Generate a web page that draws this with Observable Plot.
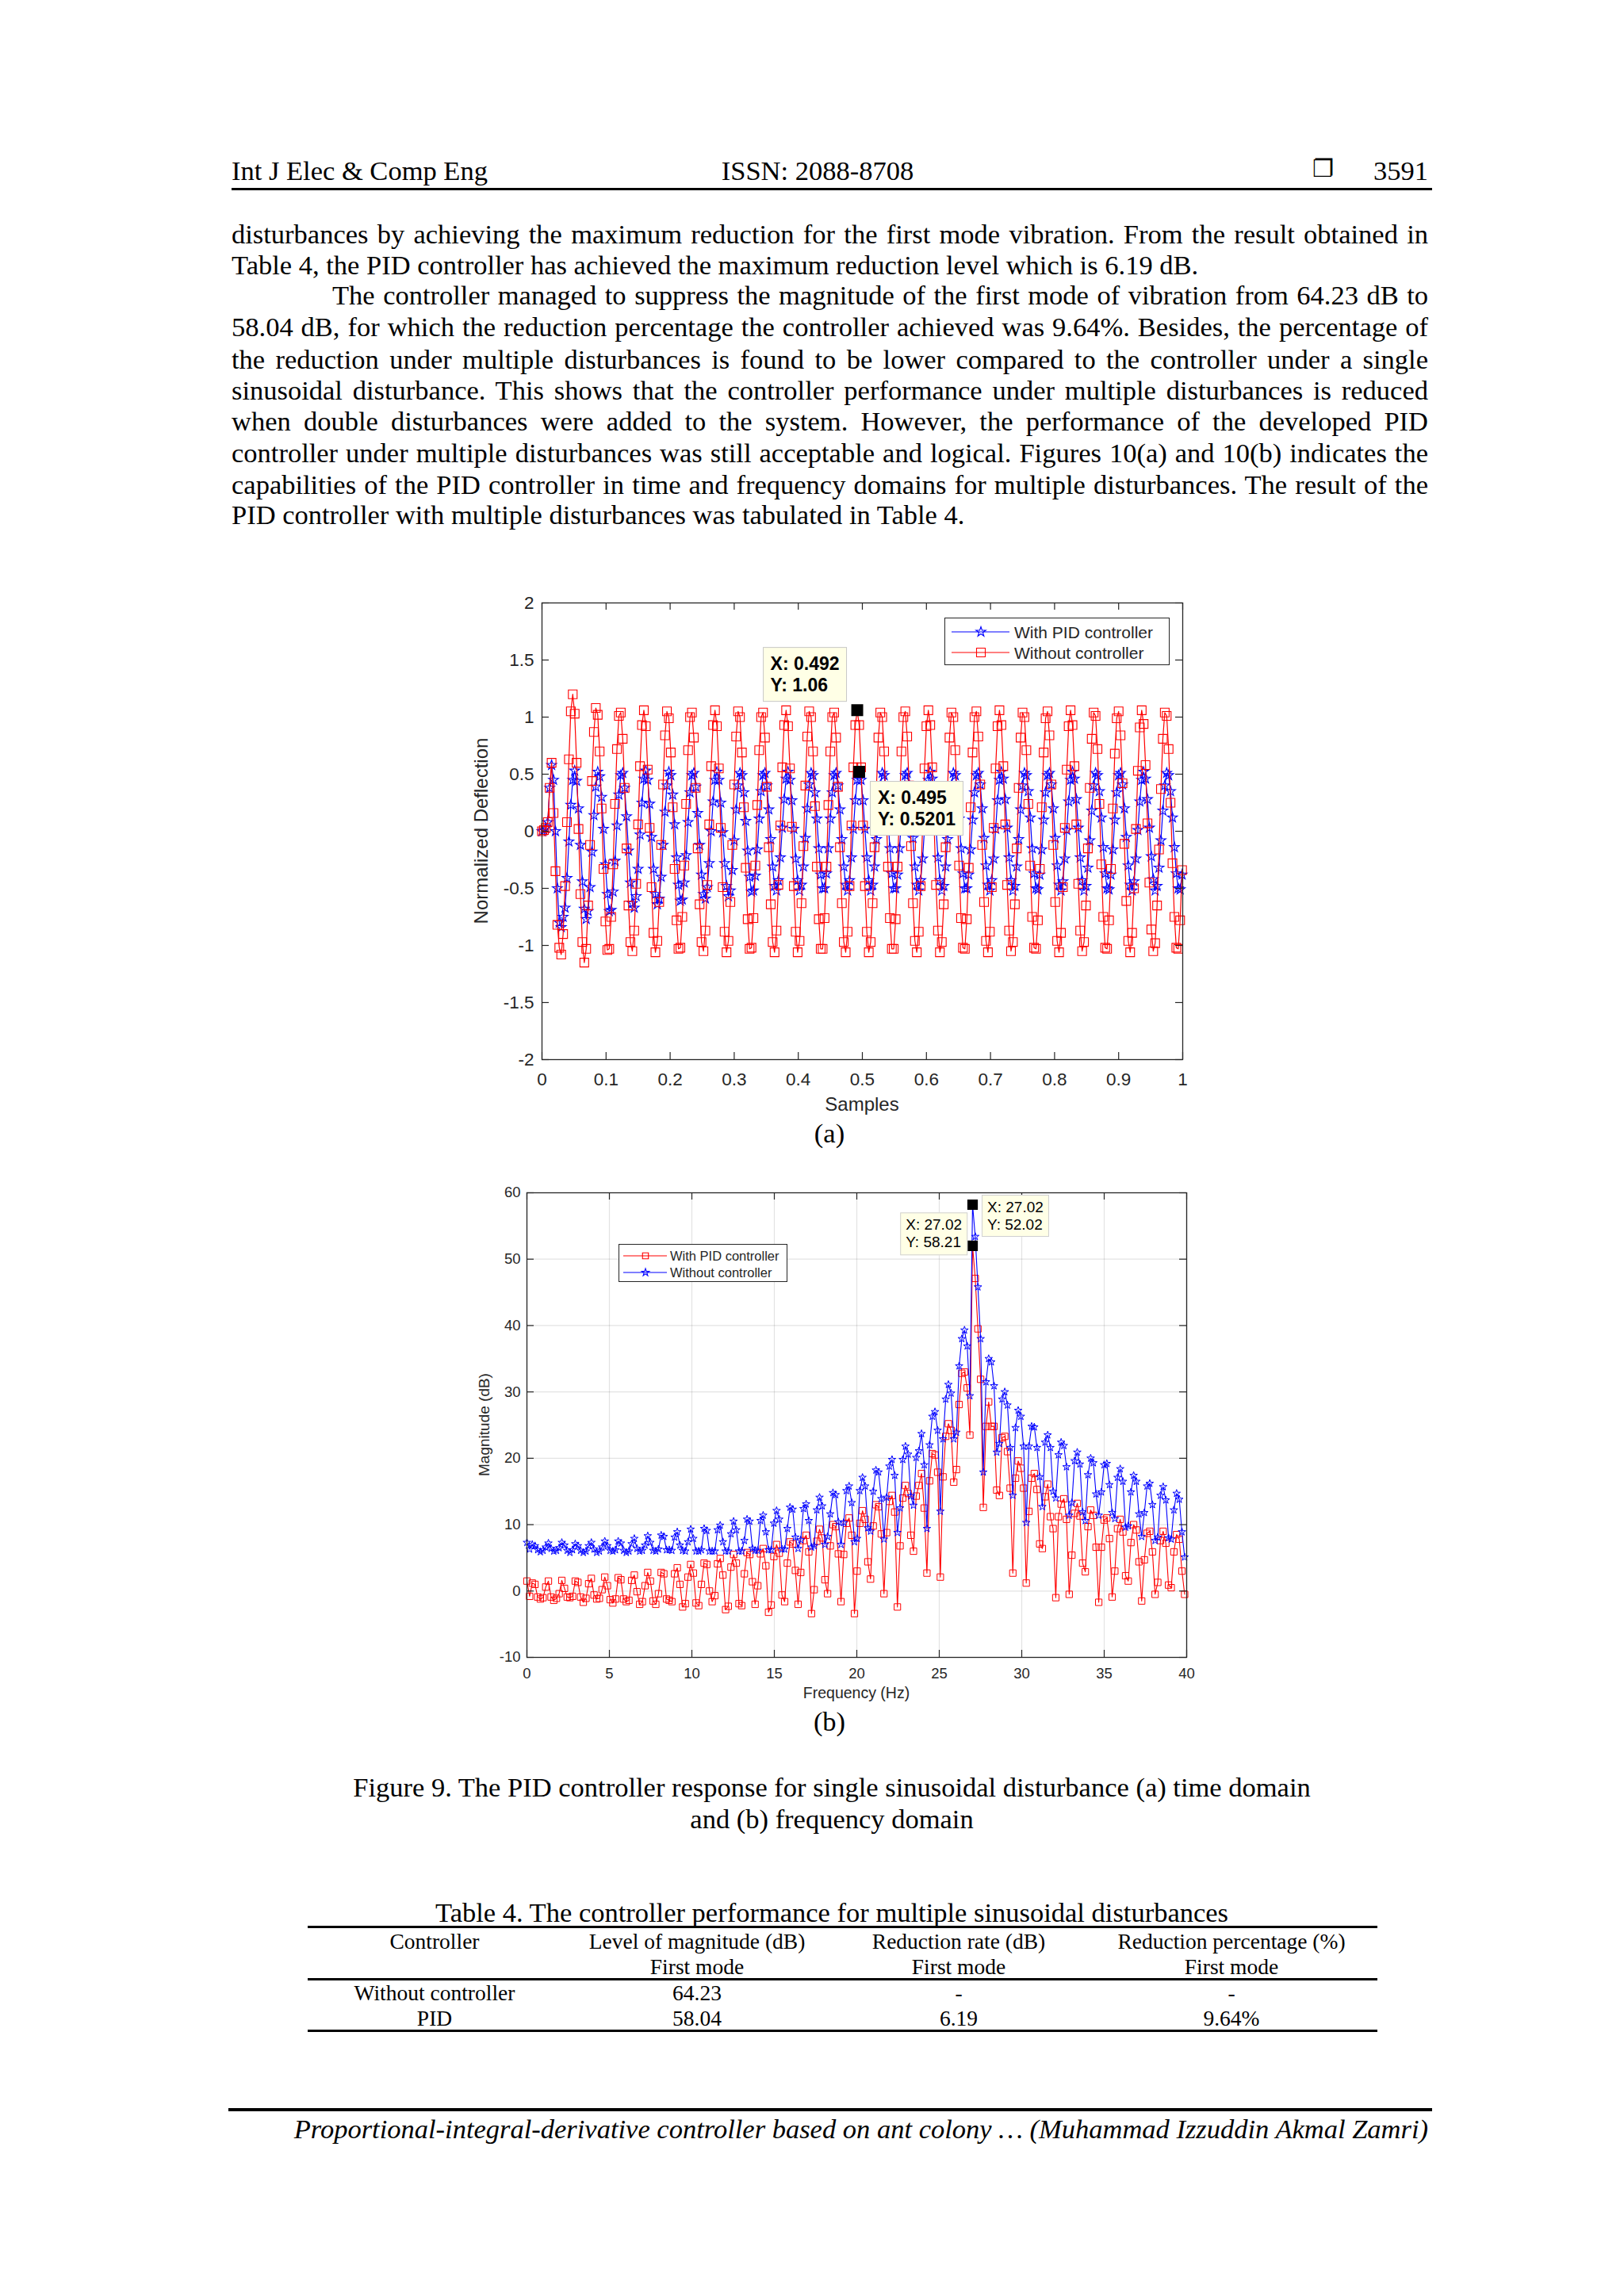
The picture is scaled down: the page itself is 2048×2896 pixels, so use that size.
<!DOCTYPE html>
<html><head><meta charset="utf-8">
<script src="https://cdn.jsdelivr.net/npm/d3@7"></script>
<script src="https://cdn.jsdelivr.net/npm/@observablehq/plot@0.6"></script>
<style>
body{margin:0;background:#fff;}
#page{position:relative;width:2048px;height:2896px;background:#fff;font-family:"Liberation Serif","Times New Roman",serif;color:#000;overflow:hidden;}
.t{position:absolute;white-space:nowrap;font-size:34.5px;line-height:40px;}
.bl{position:absolute;left:292px;width:1509px;font-size:34.5px;line-height:40px;white-space:nowrap;text-align:justify;text-align-last:justify;}
.bl.last{text-align:left;text-align-last:left;}
.rule{position:absolute;background:#000;}
.c{position:absolute;white-space:nowrap;transform:translateX(-50%);}
.tb{position:absolute;white-space:nowrap;transform:translateX(-50%);font-size:27.5px;line-height:32px;}
.chart{position:absolute;}
.leg{position:absolute;background:#fff;box-sizing:border-box;font-family:"Liberation Sans",Arial,sans-serif;color:#262626;}
.axl{position:absolute;white-space:nowrap;font-family:"Liberation Sans",Arial,sans-serif;color:#262626;line-height:1;}
.dtip{position:absolute;white-space:pre;font-family:"Liberation Sans",Arial,sans-serif;color:#000;background:#ffffe6;box-sizing:border-box;}
</style>
</head><body>
<div id="page">
  <div class="t" style="left:292px;top:195px;">Int J Elec &amp; Comp Eng</div>
  <div class="t c" style="left:1031px;top:195px;">ISSN: 2088-8708</div>
  <div class="t" style="left:1655px;top:193px;font-family:'DejaVu Sans',sans-serif;font-size:30px;">❐</div>
  <div class="t" style="right:247px;top:195px;">3591</div>
  <div class="rule" style="left:292px;top:237px;width:1514px;height:3px;"></div>

  <div class="bl" style="top:275px;">disturbances by achieving the maximum reduction for the first mode vibration. From the result obtained in</div>
  <div class="bl last" style="top:314px;">Table 4, the PID controller has achieved the maximum reduction level which is 6.19 dB.</div>
  <div class="bl" style="top:352px;left:419px;width:1382px;">The controller managed to suppress the magnitude of the first mode of vibration from 64.23 dB to</div>
  <div class="bl" style="top:392px;">58.04 dB, for which the reduction percentage the controller achieved was 9.64%. Besides, the percentage of</div>
  <div class="bl" style="top:433px;">the reduction under multiple disturbances is found to be lower compared to the controller under a single</div>
  <div class="bl" style="top:472px;">sinusoidal disturbance. This shows that the controller performance under multiple disturbances is reduced</div>
  <div class="bl" style="top:511px;">when double disturbances were added to the system. However, the performance of the developed PID</div>
  <div class="bl" style="top:551px;">controller under multiple disturbances was still acceptable and logical. Figures 10(a) and 10(b) indicates the</div>
  <div class="bl" style="top:591px;">capabilities of the PID controller in time and frequency domains for multiple disturbances. The result of the</div>
  <div class="bl last" style="top:629px;">PID controller with multiple disturbances was tabulated in Table 4.</div>

  <div id="chartA" class="chart" style="left:560px;top:730px;"></div>
  <div class="axl" style="left:1087px;top:1393px;font-size:24px;transform:translate(-50%,-50%);">Samples</div>
  <div class="axl" style="left:607px;top:1048px;font-size:24px;transform:translate(-50%,-50%) rotate(-90deg);">Normalized Deflection</div>
  <div class="t c" style="left:1046px;top:1409px;">(a)</div>

  <div id="chartB" class="chart" style="left:560px;top:1474px;"></div>
  <div class="axl" style="left:1080px;top:2136px;font-size:19.5px;transform:translate(-50%,-50%);">Frequency (Hz)</div>
  <div class="axl" style="left:610px;top:1797px;font-size:19px;transform:translate(-50%,-50%) rotate(-90deg);">Magnitude (dB)</div>
  <div class="t c" style="left:1046px;top:2151px;">(b)</div>

  <div class="t c" style="left:1049px;top:2234px;">Figure 9. The PID controller response for single sinusoidal disturbance (a) time domain</div>
  <div class="t c" style="left:1049px;top:2274px;">and (b) frequency domain</div>

  <div class="t c" style="left:1049px;top:2392px;">Table 4. The controller performance for multiple sinusoidal disturbances</div>
  <div class="rule" style="left:388px;top:2429px;width:1349px;height:2.5px;"></div>
  <div class="tb" style="left:548px;top:2433px;">Controller</div>
  <div class="tb" style="left:879px;top:2433px;">Level of magnitude (dB)</div>
  <div class="tb" style="left:1209px;top:2433px;">Reduction rate (dB)</div>
  <div class="tb" style="left:1553px;top:2433px;">Reduction percentage (%)</div>
  <div class="tb" style="left:879px;top:2465px;">First mode</div>
  <div class="tb" style="left:1209px;top:2465px;">First mode</div>
  <div class="tb" style="left:1553px;top:2465px;">First mode</div>
  <div class="rule" style="left:388px;top:2495px;width:1349px;height:2.5px;"></div>
  <div class="tb" style="left:548px;top:2498px;">Without controller</div>
  <div class="tb" style="left:879px;top:2498px;">64.23</div>
  <div class="tb" style="left:1209px;top:2498px;">-</div>
  <div class="tb" style="left:1553px;top:2498px;">-</div>
  <div class="tb" style="left:548px;top:2530px;">PID</div>
  <div class="tb" style="left:879px;top:2530px;">58.04</div>
  <div class="tb" style="left:1209px;top:2530px;">6.19</div>
  <div class="tb" style="left:1553px;top:2530px;">9.64%</div>
  <div class="rule" style="left:388px;top:2560px;width:1349px;height:2.5px;"></div>

  <div class="rule" style="left:288px;top:2659px;width:1518px;height:4px;"></div>
  <div class="t" style="right:247px;top:2665px;font-style:italic;">Proportional-integral-derivative controller based on ant colony … (Muhammad Izzuddin Akmal Zamri)</div>
</div>
<script>
// ---------- Figure 9(a): time domain ----------
const dtA = 0.003; // sampling step of the time axis
const redA = [0,0.01,0.03,0.08,0.38,0.6,0.16,-0.35,-0.82,-1.02,
-1.08,-0.9,-0.48,0.08,0.63,1.05,1.2,1.03,0.6,0.02,
-0.55,-0.97,-1.15,-1.03,-0.65,-0.12,0.44,0.87,1.08,1.02,
0.7,0.2,-0.33,-0.79,-1.04,-1.03,-0.75,-0.29,0.24,0.72,
1.01,1.04,0.81,0.38,-0.15,-0.65,-0.97,-1.05,-0.87,-0.46,
0.06,0.57,0.93,1.06,0.92,0.54,0.03,-0.49,-0.89,-1.06,
-0.96,-0.62,-0.12,0.41,0.84,1.05,0.99,0.69,0.21,-0.33,
-0.78,-1.03,-1.02,-0.75,-0.3,0.24,0.71,1.0,1.04,0.82,
0.38,-0.15,-0.64,-0.97,-1.05,-0.87,-0.47,0.06,0.57,0.93,
1.06,0.92,0.55,0.03,-0.49,-0.88,-1.06,-0.96,-0.62,-0.12,
0.41,0.83,1.05,1.0,0.69,0.21,-0.32,-0.77,-1.03,-1.02,
-0.76,-0.3,0.23,0.71,1.0,1.04,0.82,0.39,-0.14,-0.64,
-0.97,-1.06,-0.87,-0.47,0.05,0.56,0.93,1.06,0.92,0.55,
0.04,-0.48,-0.88,-1.06,-0.96,-0.63,-0.13,0.4,0.83,1.05,
1.0,0.7,0.22,-0.31,-0.77,-1.03,-1.03,-0.76,-0.31,0.23,
0.7,1.0,1.04,0.82,0.39,-0.14,-0.63,-0.97,-1.06,-0.88,
-0.48,0.05,0.56,0.93,1.06,0.93,0.56,0.05,-0.48,-0.88,
-1.06,-0.97,-0.63,-0.14,0.39,0.82,1.04,1.0,0.7,0.23,
-0.31,-0.76,-1.03,-1.03,-0.77,-0.31,0.22,0.7,1.0,1.05,
0.83,0.4,-0.13,-0.63,-0.96,-1.06,-0.88,-0.48,0.04,0.55,
0.92,1.06,0.93,0.56,0.05,-0.47,-0.87,-1.06,-0.97,-0.64,
-0.14,0.39,0.82,1.04,1.0,0.71,0.23,-0.3,-0.76,-1.02,
-1.03,-0.77,-0.32,0.21,0.69,1.0,1.05,0.83,0.41,-0.12,
-0.62,-0.96,-1.06,-0.88,-0.49,0.03,0.55,0.92,1.06,0.93,
0.57,0.06,-0.47,-0.87,-1.05,-0.97,-0.64,-0.15,0.38,0.82,
1.04,1.0,0.71,0.24,-0.3,-0.75,-1.02,-1.03,-0.78,-0.33,
0.21,0.69,0.99,1.05,0.84,0.41,-0.12,-0.62,-0.96,-1.06,
-0.89,-0.49,0.03,0.54,0.92,1.06,0.93,0.57,0.06,-0.46,
-0.87,-1.05,-0.97,-0.65,-0.15,0.38,0.81,1.04,1.01,0.72,
0.24,-0.29,-0.75,-1.02,-1.03,-0.78,-0.33,0.2,0.68,0.99,
1.05,0.84,0.42,-0.11,-0.61,-0.96,-1.06,-0.89,-0.5,0.02,
0.53,0.91,1.06,0.94,0.58,0.07,-0.45,-0.86,-1.05,-0.98,
-0.65,-0.16,0.37,0.81,1.04,1.01,0.72,0.25,-0.28,-0.75,
-1.02,-1.03,-0.78,-0.34];
const blueA = [0,0.01,0.03,0.08,0.38,0.58,0.45,0.0,-0.5,-0.8,
-0.84,-0.75,-0.67,-0.41,-0.09,0.23,0.45,0.53,0.44,0.2,
-0.12,-0.44,-0.68,-0.77,-0.7,-0.49,-0.18,0.14,0.39,0.52,
0.48,0.3,0.02,-0.29,-0.55,-0.7,-0.69,-0.53,-0.26,0.05,
0.32,0.49,0.51,0.38,0.13,-0.17,-0.45,-0.63,-0.67,-0.57,
-0.33,-0.03,0.25,0.46,0.53,0.45,0.24,-0.05,-0.33,-0.55,
-0.64,-0.59,-0.4,-0.12,0.17,0.4,0.52,0.49,0.32,0.06,
-0.23,-0.47,-0.61,-0.6,-0.45,-0.21,0.08,0.34,0.49,0.51,
0.39,0.16,-0.12,-0.38,-0.55,-0.59,-0.49,-0.28,0.0,0.26,
0.45,0.52,0.45,0.25,-0.01,-0.28,-0.48,-0.57,-0.52,-0.34,
-0.08,0.19,0.4,0.51,0.49,0.34,0.09,-0.17,-0.4,-0.53,
-0.52,-0.39,-0.16,0.11,0.35,0.49,0.51,0.4,0.19,-0.07,
-0.31,-0.48,-0.52,-0.43,-0.23,0.03,0.28,0.46,0.52,0.45,
0.27,0.02,-0.24,-0.43,-0.52,-0.47,-0.31,-0.06,0.2,0.41,
0.51,0.49,0.34,0.11,-0.15,-0.38,-0.5,-0.5,-0.37,-0.15,
0.11,0.34,0.49,0.51,0.4,0.19,-0.07,-0.31,-0.47,-0.52,
-0.43,-0.23,0.02,0.27,0.45,0.52,0.45,0.27,0.02,-0.23,
-0.43,-0.52,-0.47,-0.31,-0.07,0.19,0.4,0.51,0.49,0.34,
0.11,-0.15,-0.37,-0.5,-0.5,-0.38,-0.15,0.11,0.34,0.49,
0.51,0.41,0.2,-0.06,-0.31,-0.47,-0.52,-0.43,-0.24,0.02,
0.27,0.45,0.52,0.46,0.28,0.03,-0.23,-0.43,-0.52,-0.48,
-0.31,-0.07,0.19,0.4,0.51,0.49,0.35,0.11,-0.15,-0.37,
-0.5,-0.5,-0.38,-0.16,0.1,0.34,0.49,0.51,0.41,0.2,
-0.06,-0.3,-0.47,-0.52,-0.43,-0.24,0.02,0.27,0.45,0.52,
0.46,0.28,0.03,-0.23,-0.43,-0.52,-0.48,-0.31,-0.07,0.19,
0.4,0.51,0.49,0.35,0.12,-0.15,-0.37,-0.5,-0.51,-0.38,
-0.16,0.1,0.34,0.49,0.51,0.41,0.2,-0.06,-0.3,-0.47,
-0.52,-0.44,-0.24,0.01,0.26,0.45,0.52,0.46,0.28,0.03,
-0.23,-0.43,-0.52,-0.48,-0.32,-0.08,0.18,0.4,0.51,0.49,
0.35,0.12,-0.14,-0.37,-0.5,-0.51,-0.38,-0.16,0.1,0.34,
0.49,0.51,0.41,0.2,-0.05,-0.3,-0.47,-0.52,-0.44,-0.24,
0.01,0.26,0.45,0.52,0.46,0.28,0.03,-0.22,-0.42,-0.52,
-0.48,-0.32,-0.08,0.18,0.4,0.51,0.49,0.35,0.12,-0.14,
-0.37,-0.5,-0.51,-0.38];
const xTicksA = [0,0.1,0.2,0.3,0.4,0.5,0.6,0.7,0.8,0.9,1];
const yTicksA = [-2,-1.5,-1,-0.5,0,0.5,1,1.5,2];
const tipsA = [{x:0.492, y:1.06}, {x:0.495, y:0.5201}];
const seriesNamesA = ["With PID controller", "Without controller"];

// ---------- Figure 9(b): frequency domain ----------
const dfB = 0.16276; // frequency bin width (Hz)
const redB = [1.5,-0.8,1.2,1.0,-0.9,-1.2,-1.0,0.6,1.5,-0.9,
-1.4,-1.1,-0.4,1.6,0.4,-0.9,-1.0,-0.8,1.5,1.3,
-0.9,-1.7,-1.1,1.1,1.9,-0.6,-1.2,-1.1,0.2,2.1,
0.8,-1.3,-1.8,-1.2,2.0,1.7,-1.2,-1.6,-1.4,1.6,
2.4,-0.1,-2.0,-1.6,0.8,2.8,1.5,-1.5,-2.0,-0.4,
2.8,2.6,-1.2,-1.4,-1.6,2.6,3.5,1.0,-2.4,-1.9,
2.1,4.0,2.7,-1.8,-2.2,1.0,4.2,4.0,0.0,-1.6,
-0.7,4.1,4.9,2.4,-2.8,-2.3,3.6,5.5,4.2,-1.9,
-2.2,2.6,5.8,5.5,1.4,-2.0,0.8,5.6,6.4,3.8,
-3.2,-2.1,5.2,7.0,5.7,-0.6,-1.6,4.2,7.4,7.1,
3.1,-2.0,2.8,7.6,8.4,5.9,-3.4,0.2,7.5,9.3,
8.0,1.7,-0.4,6.8,10.0,9.7,5.6,-1.6,5.5,10.2,
11.0,8.4,-3.4,3.0,10.2,12.1,10.8,4.4,1.8,9.8,
13.0,12.7,8.6,-0.4,8.8,13.5,14.4,11.9,-2.4,6.8,
14.0,15.9,14.7,8.4,6.0,14.3,15.9,17.7,12.5,2.7,
16.6,20.7,20.5,17.9,2.1,17.2,23.3,25.2,24.2,16.4,
18.3,28.1,32.8,33.0,30.6,23.5,52.02,47.1,39.5,31.9,
12.6,24.8,28.5,24.8,24.8,15.2,14.4,23.1,23.3,21.0,
15.5,2.7,17.0,19.6,18.5,15.5,1.2,12.0,17.0,17.7,
15.3,7.1,6.4,14.2,16.1,11.2,9.4,-1.0,11.2,13.1,
13.9,10.8,-0.5,5.4,11.7,13.2,11.3,4.2,2.9,9.7,
12.2,11.4,6.6,-1.7,6.6,10.7,11.0,7.9,-0.9,3.0,
9.4,10.8,8.9,2.3,1.5,7.3,10.0,9.2,4.4,-1.5,
4.7,8.7,9.0,5.9,-0.5,1.3,7.6,9.0,7.2,0.9,
0.5,5.9,8.5,7.8,3.0,-0.5];
const blueB = [7.3,6.3,7.0,6.8,6.2,5.9,6.1,6.6,7.2,6.4,
6.0,6.1,6.5,7.3,6.9,6.1,5.8,6.2,7.1,6.8,
6.1,5.8,6.0,6.8,7.3,6.3,5.8,6.0,6.6,7.5,
6.8,6.1,6.0,6.2,7.5,7.2,6.1,5.8,6.0,7.1,
7.9,6.4,6.0,6.1,6.9,8.3,7.3,6.1,6.0,6.3,
8.4,8.2,6.2,6.2,6.1,8.1,8.9,6.9,6.1,6.0,
7.4,9.3,7.9,6.0,6.0,6.2,9.4,9.1,6.0,6.0,
6.0,9.2,9.9,7.4,6.0,6.0,8.6,10.5,9.2,6.0,
6.0,7.6,10.8,10.5,6.4,6.1,6.1,10.6,11.4,8.9,
6.2,6.2,10.2,12.1,10.8,6.3,6.3,9.4,12.6,12.3,
8.1,6.4,7.7,12.4,13.1,10.6,6.6,6.8,12.2,14.1,
12.8,7.0,8.2,11.6,14.8,14.5,10.4,7.0,10.3,15.1,
15.8,13.3,7.4,7.9,15.1,17.1,15.8,9.5,9.0,15.0,
18.2,17.9,13.9,7.8,14.1,18.8,19.8,17.4,8.8,12.5,
19.8,21.8,20.6,14.3,12.9,20.1,21.1,23.7,19.0,9.4,
22.0,26.3,27.0,24.2,12.0,22.9,28.9,31.1,29.8,22.9,
23.9,33.9,38.0,39.3,36.9,29.4,58.21,53.4,45.8,38.0,
17.9,31.5,35.0,34.5,30.9,20.9,22.2,28.9,30.0,28.0,
21.6,14.4,24.6,27.2,26.3,21.8,10.3,21.8,24.8,24.7,
21.6,17.2,12.7,22.4,23.5,21.6,15.0,14.0,20.5,22.4,
21.9,18.7,11.4,13.3,19.6,20.9,19.1,11.9,10.6,17.5,
20.0,19.3,14.6,11.4,14.9,19.0,19.2,16.0,11.8,10.9,
17.1,18.4,16.5,9.6,9.8,14.9,17.4,16.5,11.6,8.2,
11.8,15.8,16.2,13.0,7.6,8.1,14.4,15.7,13.7,8.0,
7.8,12.2,14.7,13.8,8.9,5.1];
const xTicksB = [0,5,10,15,20,25,30,35,40];
const yTicksB = [-10,0,10,20,30,40,50,60];
const tipsB = [{x:27.02, y:58.21}, {x:27.02, y:52.02}];
const seriesNamesB = ["With PID controller", "Without controller"];

const RED = "#ff0000", BLUE = "#0000ff", AX = "#262626";
const SANS = "'Liberation Sans', Arial, Helvetica, sans-serif";
const fmt = d => String(d);

// datatip box placed next to a data point through the chart's own scales
function dataTip(chart, origin, d, corner, dx, dy, style) {
  const px = origin.x + chart.scale("x").apply(d.x);
  const py = origin.y + chart.scale("y").apply(d.y);
  const tx = corner.includes("right") ? "-100%" : "0";
  const ty = corner.includes("bottom") ? "-100%" : "0";
  d3.select("#page").append("div").attr("class", "dtip")
    .text(`X: ${d.x}\nY: ${d.y}`)
    .style("left", (px + dx) + "px").style("top", (py + dy) + "px")
    .style("transform", `translate(${tx},${ty})`)
    .style("font-size", style.fs + "px").style("font-weight", style.fw || "normal")
    .style("line-height", style.lh).style("padding", style.pad)
    .style("border", "1.5px solid " + style.border);
}

// ---------- build chart A ----------
(function(){
  const W = 960, H = 700, ml = 123, mt = 30, mr = 29, mb = 94;
  const fw = W - ml - mr, fh = H - mt - mb;
  const data = redA.map((v, i) => ({t: i * dtA, none: v, pid: blueA[i]}));
  const chart = Plot.plot({
    width: W, height: H, marginLeft: ml, marginTop: mt, marginRight: mr, marginBottom: mb,
    x: {domain: [0, 1]}, y: {domain: [-2, 2]},
    style: {fontFamily: SANS, color: AX, background: "transparent", overflow: "visible"},
    marks: [
      Plot.line(data, {x: "t", y: "pid", stroke: BLUE, strokeWidth: 1.2}),
      Plot.dot(data, {x: "t", y: "pid", symbol: "star", r: 3.9, stroke: BLUE, strokeWidth: 1.1, fill: "none"}),
      Plot.line(data, {x: "t", y: "none", stroke: RED, strokeWidth: 1.2}),
      Plot.dot(data, {x: "t", y: "none", symbol: "square", r: 6.2, stroke: RED, strokeWidth: 1.1, fill: "none"}),
      Plot.dot(tipsA, {x: "x", y: "y", symbol: "square", r: 7.6, fill: "#000", stroke: "#000"}),
      Plot.frame({stroke: AX, strokeWidth: 1.3}),
      Plot.tickX(xTicksA, {x: d => d, insetTop: fh - 9, stroke: AX, strokeWidth: 1.2}),
      Plot.tickX(xTicksA, {x: d => d, insetBottom: fh - 9, stroke: AX, strokeWidth: 1.2}),
      Plot.tickY(yTicksA, {y: d => d, insetRight: fw - 9, stroke: AX, strokeWidth: 1.2}),
      Plot.tickY(yTicksA, {y: d => d, insetLeft: fw - 9, stroke: AX, strokeWidth: 1.2}),
      Plot.axisX({ticks: xTicksA, tickSize: 0, tickPadding: 17, tickFormat: fmt, fontSize: 22.5, label: null}),
      Plot.axisY({ticks: yTicksA, tickSize: 0, tickPadding: 10, tickFormat: fmt, fontSize: 22.5, label: null})
    ]
  });
  document.getElementById("chartA").appendChild(chart);
  const o = {x: 560, y: 730};
  const st = {fs: 23, fw: "bold", lh: "1.15", pad: "7px 9px", border: "#c8c8c8"};
  dataTip(chart, o, tipsA[0], "bottom-right", -12, -10, st);
  dataTip(chart, o, tipsA[1], "top-left", 14, 12, st);
})();

// ---------- build chart B ----------
(function(){
  const W = 960, H = 720, ml = 104, mt = 30, mr = 24, mb = 104;
  const fw = W - ml - mr, fh = H - mt - mb;
  const data = redB.map((v, i) => ({f: i * dfB, pid: v, none: blueB[i]}));
  const chart = Plot.plot({
    width: W, height: H, marginLeft: ml, marginTop: mt, marginRight: mr, marginBottom: mb,
    x: {domain: [0, 40]}, y: {domain: [-10, 60]},
    style: {fontFamily: SANS, color: AX, background: "transparent", overflow: "visible"},
    marks: [
      Plot.gridX({ticks: xTicksB, stroke: AX, strokeOpacity: 0.13, strokeWidth: 1.2}),
      Plot.gridY({ticks: yTicksB, stroke: AX, strokeOpacity: 0.13, strokeWidth: 1.2}),
      Plot.line(data, {x: "f", y: "pid", stroke: RED, strokeWidth: 1.1}),
      Plot.dot(data, {x: "f", y: "pid", symbol: "square", r: 4.6, stroke: RED, strokeWidth: 1, fill: "none"}),
      Plot.line(data, {x: "f", y: "none", stroke: BLUE, strokeWidth: 1.1}),
      Plot.dot(data, {x: "f", y: "none", symbol: "star", r: 3.0, stroke: BLUE, strokeWidth: 1, fill: "none"}),
      Plot.dot(tipsB, {x: "x", y: "y", symbol: "square", r: 6.6, fill: "#000", stroke: "#000"}),
      Plot.frame({stroke: AX, strokeWidth: 1.3}),
      Plot.tickX(xTicksB, {x: d => d, insetTop: fh - 9, stroke: AX, strokeWidth: 1.2}),
      Plot.tickX(xTicksB, {x: d => d, insetBottom: fh - 9, stroke: AX, strokeWidth: 1.2}),
      Plot.tickY(yTicksB, {y: d => d, insetRight: fw - 9, stroke: AX, strokeWidth: 1.2}),
      Plot.tickY(yTicksB, {y: d => d, insetLeft: fw - 9, stroke: AX, strokeWidth: 1.2}),
      Plot.axisX({ticks: xTicksB, tickSize: 0, tickPadding: 13, tickFormat: fmt, fontSize: 18.5, label: null}),
      Plot.axisY({ticks: yTicksB, tickSize: 0, tickPadding: 8, tickFormat: fmt, fontSize: 18.5, label: null})
    ]
  });
  document.getElementById("chartB").appendChild(chart);
  const o = {x: 560, y: 1474};
  const st = {fs: 19, lh: "1.15", pad: "4px 6px", border: "#d0d0d0"};
  dataTip(chart, o, tipsB[0], "bottom-right", -6, 64, st);
  dataTip(chart, o, tipsB[1], "top-left", 12, -64, st);
})();

// ---------- legends ----------
function legend(box, rows, opt) {
  const div = d3.select("#page").append("div").attr("class", "leg")
    .style("left", box.x + "px").style("top", box.y + "px")
    .style("width", box.w + "px").style("height", box.h + "px")
    .style("border", "1.5px solid " + AX);
  const svg = div.append("svg").attr("width", box.w).attr("height", box.h)
    .style("position", "absolute").style("left", "-1.5px").style("top", "-1.5px");
  rows.forEach((r, i) => {
    const y = opt.rowY[i];
    svg.append("line").attr("x1", opt.x1).attr("x2", opt.x2).attr("y1", y).attr("y2", y)
      .attr("stroke", r.color).attr("stroke-width", 1.2);
    const sym = d3.symbol(r.symbol === "star" ? d3.symbolStar : d3.symbolSquare, r.r * r.r * Math.PI)();
    svg.append("path").attr("d", sym).attr("transform", `translate(${opt.mx},${y})`)
      .attr("fill", "none").attr("stroke", r.color).attr("stroke-width", 1.1);
    div.append("div").text(r.name)
      .style("position", "absolute").style("left", opt.tx + "px")
      .style("top", (y - opt.fs * 0.62) + "px").style("font-size", opt.fs + "px")
      .style("line-height", (opt.fs * 1.2) + "px").style("white-space", "nowrap");
  });
}
legend({x: 1191, y: 779, w: 284, h: 60},
  [{name: seriesNamesA[0], color: BLUE, symbol: "star", r: 3.9},
   {name: seriesNamesA[1], color: RED, symbol: "square", r: 6.2}],
  {rowY: [18, 44], x1: 9, x2: 82, mx: 46, tx: 87, fs: 21});
legend({x: 780, y: 1569, w: 213, h: 48},
  [{name: seriesNamesB[0], color: RED, symbol: "square", r: 4.2},
   {name: seriesNamesB[1], color: BLUE, symbol: "star", r: 3.0}],
  {rowY: [15, 36], x1: 6, x2: 61, mx: 34, tx: 64, fs: 16.5});
</script>
</body></html>
